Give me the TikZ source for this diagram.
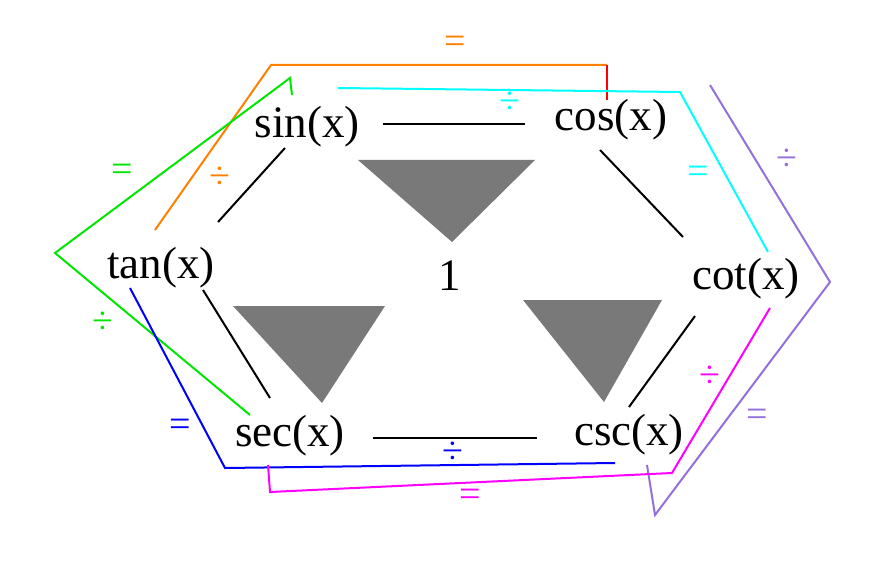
\documentclass[tikz,border=0pt]{standalone}
\usepackage{fontspec}
\setmainfont{Liberation Serif}
\begin{document}
\begin{tikzpicture}[x=1pt,y=-1pt,
  fn/.style={font=\fontsize{45}{45}\selectfont,inner sep=0pt},
  lab/.style={font=\fontsize{38}{38}\selectfont,inner sep=0pt},
  tri/.style={fill=gray!95!black,draw=none},
  bl/.style={line width=2pt,black},
  cl/.style={line width=2pt}]
\useasboundingbox (0,0) rectangle (880,569);
\node[fn] (sin) at (307,127) {sin(x)};
\node[fn] (cos) at (611,120) {cos(x)};
\node[fn] (tan) at (161,268) {tan(x)};
\node[fn] (one) at (450,276) {1};
\node[fn] (cot) at (746,279) {cot(x)};
\node[fn] (sec) at (290,436) {sec(x)};
\node[fn] (csc) at (629,435) {csc(x)};
\coordinate (a1) at (383,124); \coordinate (a2) at (525,124);
\coordinate (b1) at (600,150); \coordinate (b2) at (683,237);
\coordinate (c1) at (695,316); \coordinate (c2) at (629,407);
\coordinate (d1) at (373,438); \coordinate (d2) at (537,438);
\coordinate (e1) at (203,290); \coordinate (e2) at (270,398);
\coordinate (f1) at (218,222); \coordinate (f2) at (285,148);
\draw[bl] (a1)--(a2); \draw[bl] (b1)--(b2); \draw[bl] (c1)--(c2);
\draw[bl] (d1)--(d2); \draw[bl] (e1)--(e2); \draw[bl] (f1)--(f2);
\fill[tri] (358,160)--(535,160)--(452,242)--cycle;
\fill[tri] (233,306)--(385,306)--(322,403)--cycle;
\fill[tri] (523,300)--(662,300)--(604,402)--cycle;
\definecolor{cy}{RGB}{0,255,255}
\definecolor{mg}{RGB}{255,0,255}
\definecolor{purp}{RGB}{147,112,219}
\definecolor{gr}{RGB}{0,230,0}
% orange
\draw[cl,orange] (155,230)--(271,65)--(607,65);
\draw[cl,red] (607,65)--(607,100);
\node[lab,orange] at (455,45) {=};
\node[lab,orange] at (220,178) {÷};
% green
\draw[cl,gr] (250,415)--(55,253)--(290,78)--(292,95);
\node[lab,gr] at (122,173) {=};
\node[lab,gr] at (103,323) {÷};
% cyan
\draw[cl,cy] (338,88)--(680,92)--(768,252);
\node[lab,cy] at (510,103) {÷};
\node[lab,cy] at (698,175) {=};
% purple
\draw[cl,purp] (710,85)--(830,282)--(655,515)--(647,465);
\node[lab,purp] at (787,160) {÷};
\node[lab,purp] at (757,418) {=};
% blue
\draw[cl,blue] (130,288)--(225,468)--(615,463);
\node[lab,blue] at (180,428) {=};
\node[lab,blue] at (453,453) {÷};
% magenta
\draw[cl,mg] (770,308)--(672,473)--(270,492)--(268,465);
\node[lab,mg] at (710,377) {÷};
\node[lab,mg] at (470,498) {=};
\end{tikzpicture}
\end{document}
